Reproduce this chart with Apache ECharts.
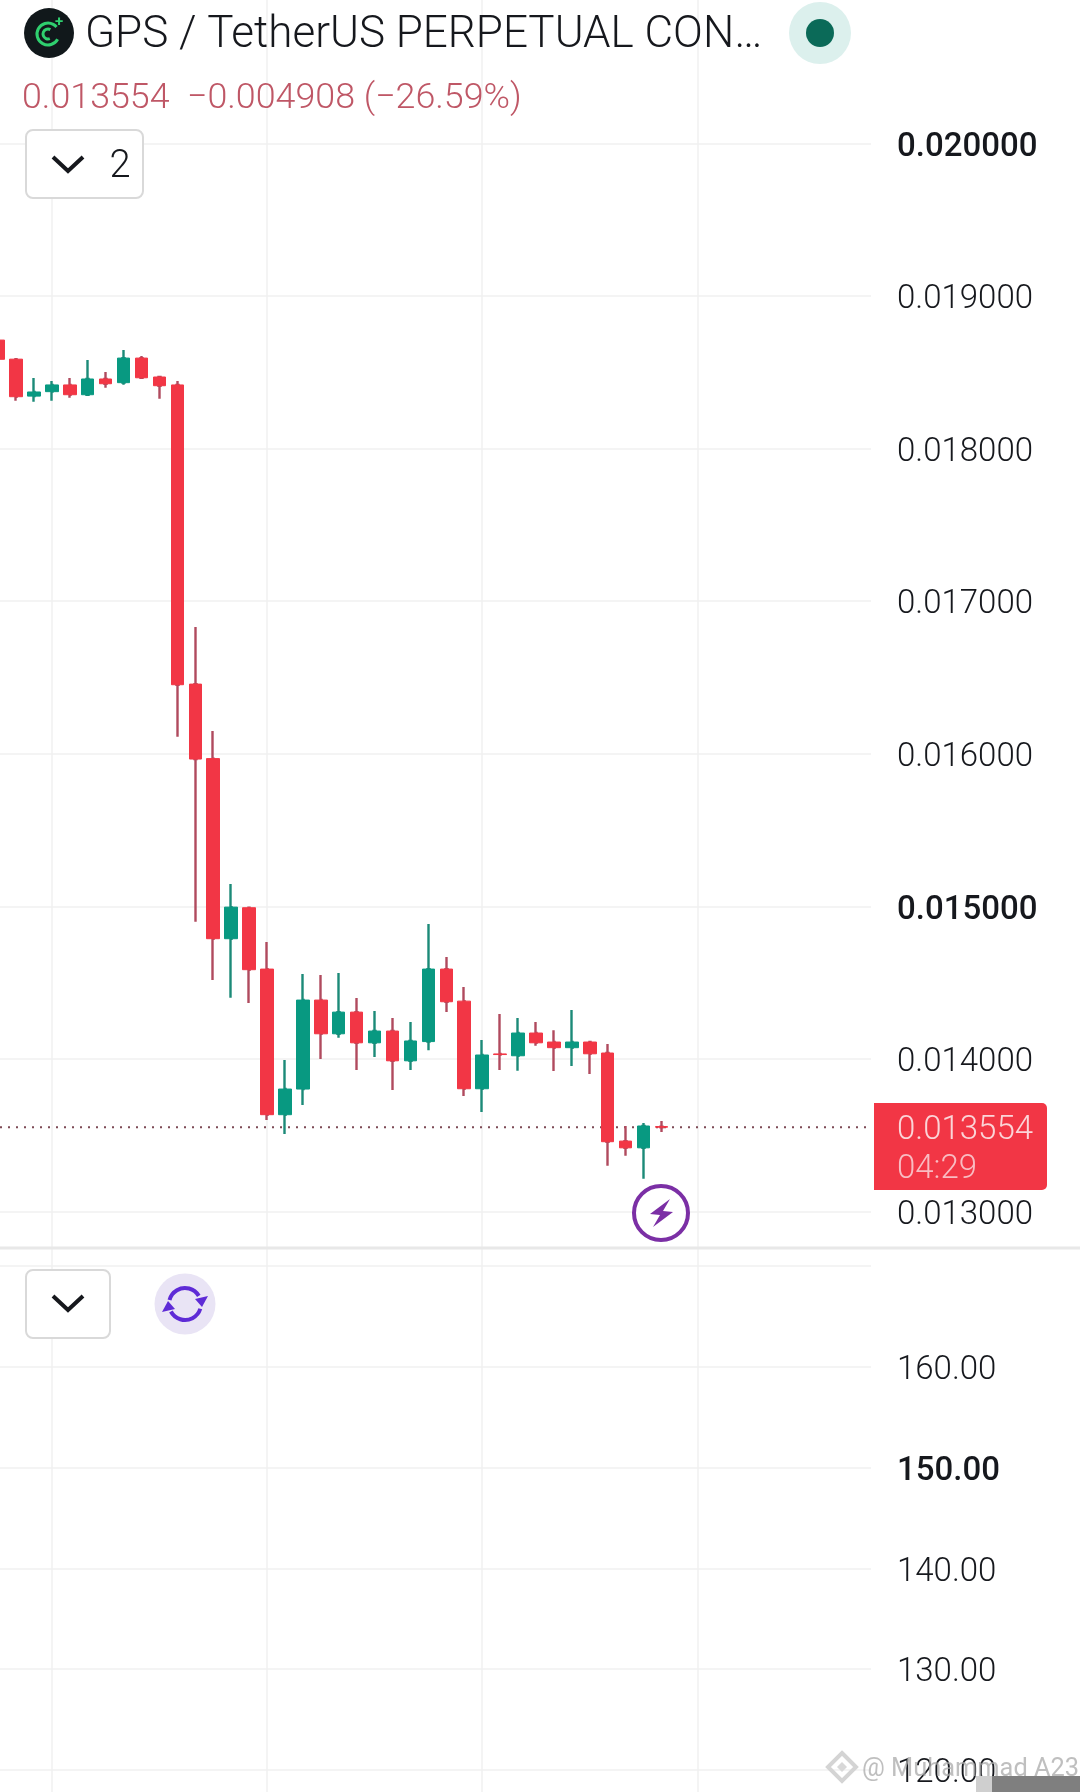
<!DOCTYPE html>
<html>
<head>
<meta charset="utf-8">
<style>html,body{margin:0;padding:0;background:#fff}#c{width:1080px;height:1792px}</style>
<script src="https://cdn.jsdelivr.net/npm/echarts@6/dist/echarts.min.js"></script>
</head>
<body>
<div id="c"></div>
<script>
// values are in millionths of a USDT
const openValues  = [18711,18586,18344,18373,18417,18353,18456,18432,18593,18469,18417,16457,15969,14789,14992,14590,13636,13804,14387,14166,14308,14107,14184,13989,14115,14590,14380,13806,14034,14022,14171,14112,14075,14112,14040,13463,13419,13558];
const closeValues = [18585,18340,18371,18417,18353,18456,18425,18593,18464,18412,16453,15966,14789,14996,14586,13636,13804,14387,14166,14308,14107,14184,13989,14119,14590,14376,13806,14027,14030,14171,14107,14075,14112,14035,13459,13419,13562,13554];
const lowValues   = [18585,18314,18307,18314,18333,18353,18399,18418,18464,18327,16112,14900,14518,14402,14367,13601,13509,13699,14001,14140,13928,14014,13797,13928,14059,14308,13758,13653,13928,13924,14088,13922,13955,13902,13302,13367,13216,13522];
const highValues  = [18711,18586,18462,18443,18462,18580,18502,18646,18607,18469,18443,16831,16150,15147,14996,14767,13994,14558,14551,14564,14400,14315,14269,14243,14885,14669,14472,14125,14295,14269,14243,14190,14322,14112,14099,13562,13581,13594];
const slotCount = 50;
const categories = Array.from({length: slotCount}, (_, i) => String(i));
const priceTicksBold = ['0.020000', '0.015000'];
const volumeTicksBold = ['150.00'];
const lastPrice = 0.013554;

const scale = v => v / 1e6;
const wickData = openValues.map((o, i) => [scale(o), scale(closeValues[i]), scale(lowValues[i]), scale(highValues[i])]);
const bodyData = openValues.map((o, i) => {
  const c = closeValues[i];
  return [scale(o), scale(c), scale(Math.min(o, c)), scale(Math.max(o, c))];
});

const UP = '#089981', DOWN = '#f23645', UPW = '#1c8a78', DOWNW = '#b04a5e';
const GRID = '#f0f0f1';
const INK = '#16181d';
const FONT = 'Roboto';

const bandLeft = -10.9, bandW = 17.93;
const priceTop = -9.3, priceH = 1373.7;
const volTop = 1266, volH = 604.8;

const hiddenCat = {type:'category', data:categories, boundaryGap:true, show:true,
  axisLine:{show:false}, axisTick:{show:false}, axisLabel:{show:false}, splitLine:{show:false}};

const axisRich = {
  n:{fontFamily:FONT, fontWeight:300, fontSize:33, color:INK},
  b:{fontFamily:FONT, fontWeight:500, fontSize:33, color:INK}
};

const chart = echarts.init(document.getElementById('c'), null, {renderer:'canvas', width:1080, height:1792});
const chevron = (cx, cy) => ({type:'polyline', z:50,
  shape:{points:[[cx-15,cy-7],[cx,cy+7],[cx+15,cy-7]]},
  style:{stroke:'#16181d', lineWidth:4, fill:null}});
const box = (x,y,w,h) => ({type:'rect', z:49, shape:{x,y,width:w,height:h,r:7},
  style:{fill:'#fff', stroke:'#d9d9d9', lineWidth:2}});
const txt = (x,y,text,font,fill) => ({type:'text', z:55, x, y,
  style:{text, font, fill, verticalAlign:'middle', align:'left'}});

chart.setOption({
  animation:false,
  backgroundColor:'#fff',
  grid:[
    {outerBoundsMode:'none', left:bandLeft, top:priceTop, width:bandW*slotCount, height:priceH},
    {outerBoundsMode:'none', left:0, top:priceTop, width:871, height:priceH},
    {outerBoundsMode:'none', left:0, top:volTop, width:871, height:volH},
    {outerBoundsMode:'none', left:bandLeft, top:priceTop, width:bandW*slotCount, height:1810}
  ],
  xAxis:[
    Object.assign({gridIndex:0}, hiddenCat),
    {gridIndex:1, type:'value', min:0, max:1, show:false},
    {gridIndex:2, type:'value', min:0, max:1, show:false},
    Object.assign({gridIndex:3}, hiddenCat, {splitLine:{show:true, alignWithLabel:true,
      interval:(i)=> (i-3)%12===0, lineStyle:{color:GRID, width:1.5}}})
  ],
  yAxis:[
    {gridIndex:0, type:'value', min:0.012, max:0.021, show:false},
    {gridIndex:1, type:'value', min:0.012, max:0.021, interval:0.001, position:'right',
      axisLine:{show:false}, axisTick:{show:false},
      splitLine:{show:true, showMinLine:false, showMaxLine:false, lineStyle:{color:GRID, width:1.5}},
      axisLabel:{show:true, margin:26, align:'left', rich:axisRich, hideOverlap:false, padding:[8,0,0,0],
        formatter:v=>{
          const s=v.toFixed(6);
          if(s==='0.012000'||s==='0.021000')return '';
          return priceTicksBold.includes(s)?`{b|${s}}`:`{n|${s}}`;
        }}},
    {gridIndex:2, type:'value', min:110, max:170, interval:10, position:'right',
      axisLine:{show:false}, axisTick:{show:false},
      splitLine:{show:true, lineStyle:{color:GRID, width:1.5}},
      axisLabel:{show:true, margin:26, align:'left', rich:axisRich, hideOverlap:false, padding:[8,0,0,0],
        formatter:v=>{
          const s=v.toFixed(2);
          if(s==='170.00'||s==='110.00')return '';
          return volumeTicksBold.includes(s)?`{b|${s}}`:`{n|${s}}`;
        }}},
    {gridIndex:3, type:'value', min:0, max:1, show:false}
  ],
  series:[
    {type:'line', xAxisIndex:1, yAxisIndex:1, data:[[0,lastPrice],[0.995,lastPrice]], z:1, silent:true,
      showSymbol:false, symbol:'none', lineStyle:{color:'#7d4a55', type:[2,6], width:2}},
    {type:'candlestick', xAxisIndex:0, yAxisIndex:0, z:3, silent:true, barWidth:2, data:wickData,
      itemStyle:{color:UPW, color0:DOWNW, borderColor:UPW, borderColor0:DOWNW, borderWidth:2.4}},
    {type:'candlestick', xAxisIndex:0, yAxisIndex:0, z:4, silent:true, barWidth:13, data:bodyData,
      itemStyle:{color:UP, color0:DOWN, borderColor:UP, borderColor0:DOWN, borderWidth:1}}
  ],
  graphic:{elements:[
    // pane separator
    {type:'rect', z:40, shape:{x:0,y:1246.5,width:1080,height:3}, style:{fill:'#e8e8e8'}},
    // logo
    {type:'circle', z:50, shape:{cx:49,cy:33,r:25}, style:{fill:'#11181b'}},
    {type:'arc', z:51, shape:{cx:48,cy:34,r:11,startAngle:0.5,endAngle:5.6}, style:{stroke:'#2fd06f',lineWidth:3,fill:null}},
    {type:'arc', z:51, shape:{cx:48,cy:34,r:5,startAngle:1.2,endAngle:5.2}, style:{stroke:'#2fd06f',lineWidth:3,fill:null}},
    txt(55,22,'+','bold 15px Roboto','#2fd06f'),
    // header text
    txt(85,36,'GPS / TetherUS PERPETUAL CON…','300 44px Roboto','#16181d'),
    txt(22,99,'0.013554  −0.004908 (−26.59%)','300 35.8px Roboto','#bf5766'),
    // status dot
    {type:'circle', z:50, shape:{cx:820,cy:33,r:31}, style:{fill:'#dcf0ed'}},
    {type:'circle', z:51, shape:{cx:820,cy:33,r:14}, style:{fill:'#0b6a58'}},
    // collapse button
    box(26,130,117,68), chevron(68,164), txt(109.5,167,'2','300 38px Roboto','#16181d'),
    // lower-pane buttons
    box(26,1270,84,68), chevron(68,1303),
    {type:'circle', z:50, shape:{cx:185,cy:1304,r:30.5}, style:{fill:'#e9e4f5'}},
    {type:'arc', z:51, shape:{cx:185,cy:1304,r:16,startAngle:3.4,endAngle:5.75}, style:{stroke:'#5e2bd6',lineWidth:4,fill:null}},
    {type:'arc', z:51, shape:{cx:185,cy:1304,r:16,startAngle:0.3,endAngle:2.65}, style:{stroke:'#5e2bd6',lineWidth:4,fill:null}},
    {type:'polygon', z:51, shape:{points:[[195,1299],[208,1296],[202,1307]]}, style:{fill:'#5e2bd6'}},
    {type:'polygon', z:51, shape:{points:[[175,1309],[162,1312],[168,1301]]}, style:{fill:'#5e2bd6'}},
    // lightning badge
    {type:'circle', z:50, shape:{cx:661,cy:1213,r:27}, style:{fill:'#fff',stroke:'#7b2fa5',lineWidth:4}},
    {type:'polygon', z:51, shape:{points:[[670,1199],[650,1214],[660,1215],[653,1227],[673,1212],[663,1211]]}, style:{fill:'#7b2fa5'}},
    // last-price tag
    {type:'rect', z:45, shape:{x:874,y:1103,width:173,height:87,r:[0,5,5,0]}, style:{fill:'#f23645'}},
    txt(897,1130.5,'0.013554','300 33px Roboto','#fbd5d8'),
    txt(897,1170,'04:29','300 33px Roboto','#f9bcc2'),
    // watermark
    {type:'polygon', z:60, shape:{points:[[842,1753],[856,1767],[842,1781],[828,1767]]}, style:{fill:'rgba(255,255,255,0)',stroke:'#d4d4d4',lineWidth:4}},
    {type:'polygon', z:60, shape:{points:[[842,1762],[847,1767],[842,1772],[837,1767]]}, style:{fill:'#d8d8d8'}},
    Object.assign(txt(862,1770,'@ Muhammad A23','25.4px Roboto','rgba(170,170,170,0.75)'),{z:60}),
    // corner blocks
    {type:'rect', z:61, shape:{x:976,y:1776,width:16,height:16}, style:{fill:'#cfcfcf'}},
    {type:'rect', z:61, shape:{x:992,y:1776,width:88,height:16}, style:{fill:'#7f7f7f'}}
  ]}
});
</script>
</body>
</html>
